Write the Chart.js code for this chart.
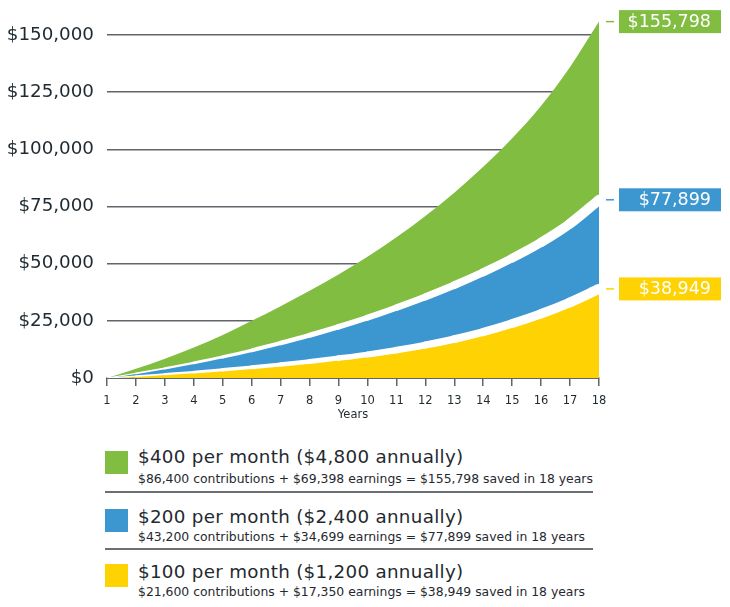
<!DOCTYPE html>
<html>
<head>
<meta charset="utf-8">
<script src="https://cdn.jsdelivr.net/npm/chart.js@4.4.1/dist/chart.umd.min.js"></script>
<style>
  html, body { margin: 0; padding: 0; background: #fff; }
  body { width: 730px; height: 607px; position: relative; overflow: hidden;
         font-family: 'DejaVu Sans', sans-serif; color: #1f2a30; }
  #chartBox { position: absolute; left: 0; top: 0; width: 730px; height: 422px; }
  .swatch { position: absolute; left: 105px; width: 23px; height: 23px; }
  .title { position: absolute; left: 138px; font-size: 18.3px; line-height: 1; letter-spacing: 0.3px; white-space: nowrap; }
  .detail { position: absolute; left: 138px; font-size: 12.4px; line-height: 1; white-space: nowrap; }
  .rule { position: absolute; left: 105px; width: 488px; height: 2px; background: #6b7075; }
</style>
</head>
<body>
<div id="chartBox"><canvas id="chart" width="730" height="422"></canvas></div>
<div id="legend"></div>
<script>
// Data
var years = ['1', '2', '3', '4', '5', '6', '7', '8', '9', '10', '11', '12', '13', '14', '15', '16', '17', '18'];
var saved400 = [0, 4000, 8400, 13300, 18800, 25000, 31400, 38100, 45200, 53000, 61500, 70800, 81000, 92300, 104800, 119000, 136000, 155798];
var saved200 = [0, 2000, 4200, 6600, 9200, 12100, 15300, 18700, 22400, 26400, 30800, 35500, 40600, 46200, 52400, 59300, 67500, 77899];
var saved100 = [0, 800, 1700, 2600, 3600, 4700, 5900, 7200, 8700, 10300, 12200, 14400, 17000, 20100, 23800, 28100, 33100, 38949];
var yTickValues = [0, 25000, 50000, 75000, 100000, 125000, 150000];
var endValueLabels = ['$155,798', '$77,899', '$38,949'];
var legendTitles = ['$400 per month ($4,800 annually)', '$200 per month ($2,400 annually)', '$100 per month ($1,200 annually)'];
var legendDetails = [
    '$86,400 contributions + $69,398 earnings = $155,798 saved in 18 years',
    '$43,200 contributions + $34,699 earnings = $77,899 saved in 18 years',
    '$21,600 contributions + $17,350 earnings = $38,949 saved in 18 years'
];

var GREEN = '#80bd41';
var BLUE = '#3c96cf';
var YELLOW = '#fed203';
var GRID = '#60656a';
var seriesColors = [GREEN, BLUE, YELLOW];

// Legend layout (px from top of page)
var swatchTops = [451, 508.5, 564];
var titleBaselines = [463.5, 523.3, 578.3];
var detailBaselines = [483.3, 541.7, 596.7];
var ruleTops = [491, 548];

// Build the legend below the chart
var legend = document.getElementById('legend');
legendTitles.forEach((t, i) => {
    var sw = document.createElement('div');
    sw.className = 'swatch';
    sw.style.top = swatchTops[i] + 'px';
    sw.style.background = seriesColors[i];
    legend.appendChild(sw);

    var title = document.createElement('div');
    title.className = 'title';
    title.textContent = t;
    title.style.top = (titleBaselines[i] - 0.846 * 18.3) + 'px';
    legend.appendChild(title);

    var detail = document.createElement('div');
    detail.className = 'detail';
    detail.textContent = legendDetails[i];
    detail.style.top = (detailBaselines[i] - 0.846 * 12.4) + 'px';
    legend.appendChild(detail);
});
ruleTops.forEach(top => {
    var r = document.createElement('div');
    r.className = 'rule';
    r.style.top = top + 'px';
    legend.appendChild(r);
});

// White separator that widens along the curve
var gapWidth = (ctx) => 1.2 + ctx.p0DataIndex * 0.55;

function areaSet(data, color, order, label) {
    return {
        data: data, order: order, endLabel: label,
        backgroundColor: color, borderColor: color, borderWidth: 0,
        fill: 'origin', pointRadius: 0, cubicInterpolationMode: 'monotone'
    };
}
function gapSet(data, order) {
    return {
        data: data, order: order,
        borderColor: '#ffffff', borderWidth: 3, borderCapStyle: 'round',
        fill: false, pointRadius: 0, cubicInterpolationMode: 'monotone',
        segment: { borderWidth: gapWidth }
    };
}

// Value boxes at the right end of each area
var endLabelPlugin = {
    id: 'endLabels',
    afterDatasetsDraw(chart) {
        var ctx = chart.ctx;
        var right = chart.chartArea.right;
        chart.data.datasets.forEach((ds, i) => {
            if (!ds.endLabel) return;
            var meta = chart.getDatasetMeta(i);
            var y = meta.data[meta.data.length - 1].y;
            ctx.save();
            ctx.strokeStyle = ds.backgroundColor;
            ctx.lineWidth = 1.5;
            ctx.beginPath();
            ctx.moveTo(right + 7, y);
            ctx.lineTo(right + 15, y);
            ctx.stroke();
            ctx.fillStyle = ds.backgroundColor;
            ctx.fillRect(right + 20, y - 11.5, 102, 23);
            ctx.fillStyle = '#ffffff';
            ctx.font = '17.5px "DejaVu Sans"';
            ctx.textAlign = 'right';
            ctx.textBaseline = 'middle';
            ctx.fillText(ds.endLabel, right + 112, y + 1);
            ctx.restore();
        });
    }
};

Chart.defaults.font.family = '"DejaVu Sans", sans-serif';
Chart.defaults.color = '#1f2a30';

var chartObj = new Chart(document.getElementById('chart'), {
    type: 'line',
    data: {
        labels: years,
        datasets: [
            gapSet(saved100, 1),
            areaSet(saved100, YELLOW, 2, endValueLabels[2]),
            gapSet(saved200, 3),
            areaSet(saved200, BLUE, 4, endValueLabels[1]),
            areaSet(saved400, GREEN, 5, endValueLabels[0])
        ]
    },
    options: {
        responsive: false,
        animation: false,
        layout: { padding: { left: 0, top: 12, right: 131, bottom: 0 } },
        plugins: { legend: { display: false }, tooltip: { enabled: false } },
        scales: {
            x: {
                grid: { drawOnChartArea: false, color: GRID, lineWidth: 1.5, tickLength: 8 },
                border: { display: true, color: GRID, width: 2 },
                ticks: { font: { size: 11.5 }, padding: 8, maxRotation: 0, autoSkip: false },
                title: { display: true, text: 'Years', font: { size: 11.5 }, padding: 0 },
                afterFit: (scale) => { scale.height = 44; }
            },
            y: {
                min: 0,
                max: 160000,
                grid: { drawTicks: false, color: GRID, lineWidth: 1.5 },
                border: { display: false },
                ticks: {
                    font: { size: 18.3 }, padding: 13,
                    callback: (v) => '$' + v.toLocaleString('en-US')
                },
                afterBuildTicks: (scale) => { scale.ticks = yTickValues.map(v => ({ value: v })); },
                afterFit: (scale) => {
                    scale.width = 107;
                    scale.paddingTop = 0;
                    scale.paddingBottom = 0;
                }
            }
        }
    },
    plugins: [endLabelPlugin]
});
</script>
</body>
</html>
